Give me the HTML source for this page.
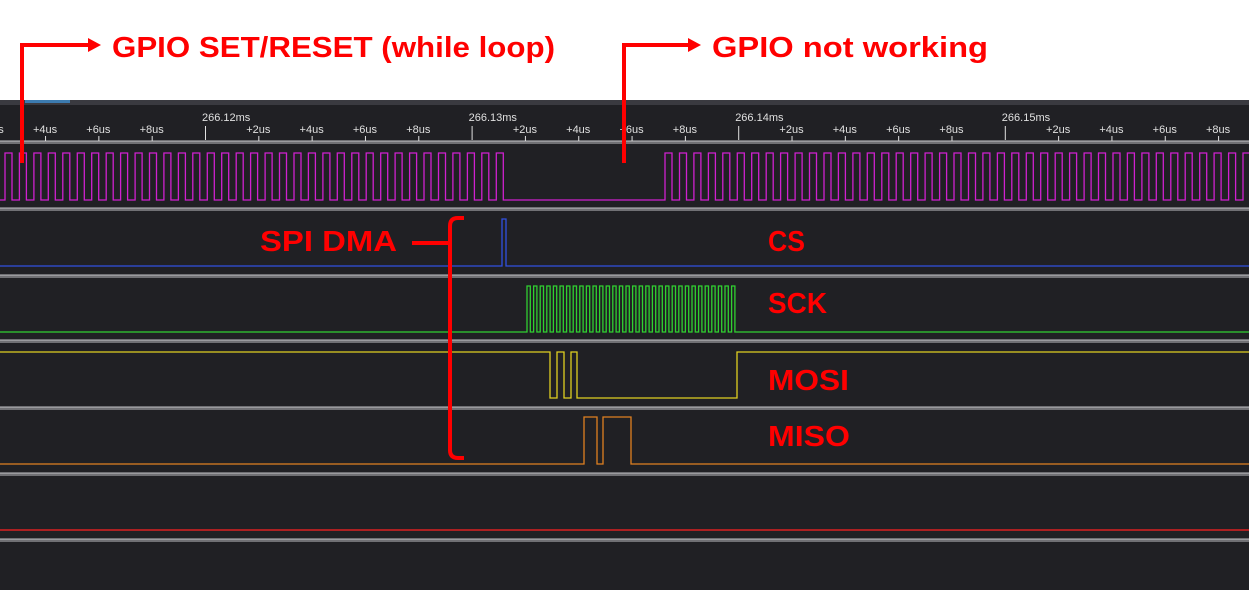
<!DOCTYPE html>
<html><head><meta charset="utf-8"><style>
html,body{margin:0;padding:0;background:#fff;}
svg{display:block;}
</style></head><body>
<svg id="s" width="1249" height="605" xmlns="http://www.w3.org/2000/svg" font-family="Liberation Sans, sans-serif">
<rect x="0" y="0" width="1249" height="605" fill="#fff"/>
<rect x="0" y="100" width="1249" height="490" fill="#202024"/>
<rect x="0" y="100" width="1249" height="5" fill="#3a3a40"/>
<rect x="25" y="100" width="45" height="3" fill="#3c7bb0"/>
<g id="seps"></g>
<g id="ruler" fill="#e0e0e0" font-size="11"></g>
<g id="sig" fill="none" stroke-width="1.3"></g>
<g fill="none" stroke="#ff0000" stroke-width="4">
<path d="M22 163 V45 H90"/>
<path d="M624 163 V45 H690"/>
<path d="M412 243 H450"/>
<path d="M464 218 H458 Q450 218 450 226 V450 Q450 458 458 458 H464"/>
</g>
<path d="M88 38 L101 45 L88 52Z" fill="#f00"/>
<path d="M688 38 L701 45 L688 52Z" fill="#f00"/>
<g fill="#ff0000" font-weight="bold" font-size="29" lengthAdjust="spacingAndGlyphs">
<text x="112" y="57" textLength="443" lengthAdjust="spacingAndGlyphs">GPIO SET/RESET (while loop)</text>
<text x="712" y="57" textLength="276" lengthAdjust="spacingAndGlyphs">GPIO not working</text>
<text x="260" y="251" textLength="137" lengthAdjust="spacingAndGlyphs">SPI DMA</text>
<text x="768" y="251" textLength="37" lengthAdjust="spacingAndGlyphs">CS</text>
<text x="768" y="313" textLength="59" lengthAdjust="spacingAndGlyphs">SCK</text>
<text x="768" y="390" textLength="81" lengthAdjust="spacingAndGlyphs">MOSI</text>
<text x="768" y="446" textLength="82" lengthAdjust="spacingAndGlyphs">MISO</text>
</g>
</svg>
<script>
var NS="http://www.w3.org/2000/svg";
function el(p,t,a,txt){var e=document.createElementNS(NS,t);for(var k in a)e.setAttribute(k,a[k]);if(txt)e.textContent=txt;document.getElementById(p).appendChild(e);}
[142,209,276,341,408,474,540].forEach(function(y){el('seps','rect',{x:0,y:y-2,width:1249,height:4,fill:'#707074'});el('seps','rect',{x:0,y:y-1,width:1249,height:1,fill:'#9a9a9e'});});
var base=205, px=26.66;
for(var i=-9;i<=39;i++){var x=base+i*px;if(x<-20||x>1260)continue;var m=((i%10)+10)%10;
 if(m==0){var ms=(266.12+Math.round(i/10)*0.01).toFixed(2)+'ms';el('ruler','text',{x:x-3,y:121},ms);el('ruler','rect',{x:x,y:126,width:1,height:14});}
 else if(m%2==0){el('ruler','text',{x:x,y:133,'text-anchor':'middle'},'+'+m+'us');el('ruler','rect',{x:x,y:136,width:1,height:5});}
}
function wave(hi,lo,edges,start,color){
 var lvl=start,d='M0 '+(lvl?hi:lo);
 edges.forEach(function(x){d+=' H'+x;lvl=!lvl;d+=' V'+(lvl?hi:lo);});
 d+=' H1249';el('sig','path',{d:d,stroke:color});}
var g=[];for(var x=5;x<505;x+=14.45){g.push(x.toFixed(1));g.push((x+7).toFixed(1));}
for(var x=665;x<1249;x+=14.45){g.push(x.toFixed(1));g.push((x+7).toFixed(1));}
wave(153,200,g,false,'#d020d0');
wave(219,266,[502,506],false,'#3050e0');
var s=[];for(var x=527;x<735;x+=6.6){s.push(x.toFixed(1));s.push((x+3.3).toFixed(1));}
wave(286,332,s,false,'#30d030');
wave(352,398,[550,557,564,571,577,737],true,'#e0d020');
wave(417,464,[584,597,603,631],false,'#e08020');
el('sig','path',{d:'M0 530 H1249',stroke:'#ff2020'});
</script>
</body></html>
